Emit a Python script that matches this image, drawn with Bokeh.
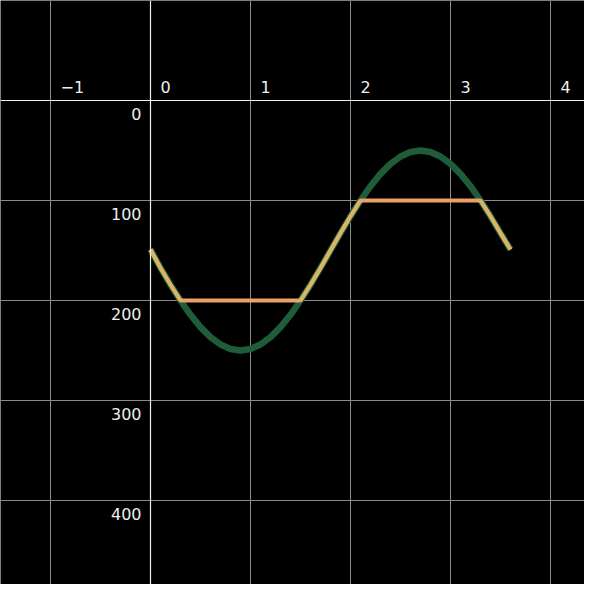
import numpy as np
from bokeh.plotting import figure
from bokeh.models import Range1d, FixedTicker, Span
from bokeh.core.properties import value
from bokeh.embed import file_html
from bokeh.resources import INLINE

# ---- data ----
X_VALUES = [0.0, 0.1, 0.2, 0.3, 0.4, 0.5, 0.6, 0.7, 0.8, 0.9,
            1.0, 1.1, 1.2, 1.3, 1.4, 1.5, 1.6, 1.7, 1.8, 1.9,
            2.0, 2.1, 2.2, 2.3, 2.4, 2.5, 2.6, 2.7, 2.8, 2.9,
            3.0, 3.1, 3.2, 3.3, 3.4, 3.5, 3.6]
Y_VALUES = [149, 167.4, 184.2, 200, 214.3, 226.6, 236.6, 244.0, 248.5, 250,
            248.5, 244.0, 236.6, 226.6, 214.3, 200, 184.2, 167.4, 150, 132.6,
            115.8, 100, 85.7, 73.4, 63.4, 56.0, 51.5, 50, 51.5, 56.0,
            63.4, 73.4, 85.7, 100, 115.8, 132.6, 149]
CLIP_LOW = 100
CLIP_HIGH = 200

X_TICKS = [-1, 0, 1, 2, 3, 4]
X_TICK_LABELS = ["\u22121", "0", "1", "2", "3", "4"]
Y_TICKS = [0, 100, 200, 300, 400]
Y_TICK_LABELS = ["0", "100", "200", "300", "400"]
GRID_X = [-1, 1, 2, 3, 4]
GRID_Y = [100, 200, 300, 400]

xs = np.array(X_VALUES, dtype=float)
ys = np.array(Y_VALUES, dtype=float)
clipped = np.clip(ys, CLIP_LOW, CLIP_HIGH)
inside = np.where((ys >= CLIP_LOW) & (ys <= CLIP_HIGH), ys, np.nan)

W = 584
H = 584
p = figure(width=W, height=H, output_backend="svg", toolbar_location=None,
           x_range=Range1d(-1.5, 4.34), y_range=Range1d(484, -100),
           min_border=0, min_border_left=0, min_border_right=0,
           min_border_top=0, min_border_bottom=0)
p.background_fill_color = "black"
p.border_fill_color = "black"
p.outline_line_color = None
p.xaxis.visible = False
p.yaxis.visible = False
p.xgrid.ticker = FixedTicker(ticks=GRID_X)
p.ygrid.ticker = FixedTicker(ticks=GRID_Y)
p.xgrid.grid_line_color = "#8a8a8a"
p.ygrid.grid_line_color = "#8a8a8a"
p.xgrid.grid_line_width = 1
p.ygrid.grid_line_width = 1

p.add_layout(Span(location=0, dimension="height", line_color="#f0f0f0", line_width=1.2))
p.add_layout(Span(location=0, dimension="width", line_color="#f0f0f0", line_width=1.2))

p.line(xs, ys, line_color="#1e5c3a", line_width=6.5)
p.line(xs, clipped, line_color="#e9a06a", line_width=4)
p.line(xs, inside, line_color="#dab466", line_width=4)

p.text(x=X_TICKS, y=[0] * len(X_TICKS), text=X_TICK_LABELS,
       x_offset=10, y_offset=-14, text_align="left", text_baseline="alphabetic",
       text_color="#eeeeee", text_font=value("DejaVu Sans"), text_font_size="16px")
p.text(x=[0] * len(Y_TICKS), y=Y_TICKS, text=Y_TICK_LABELS,
       x_offset=-9, y_offset=13, text_align="right", text_baseline="alphabetic",
       text_color="#eeeeee", text_font=value("DejaVu Sans"), text_font_size="16px")

open("out.html", "w").write(file_html(p, INLINE))
